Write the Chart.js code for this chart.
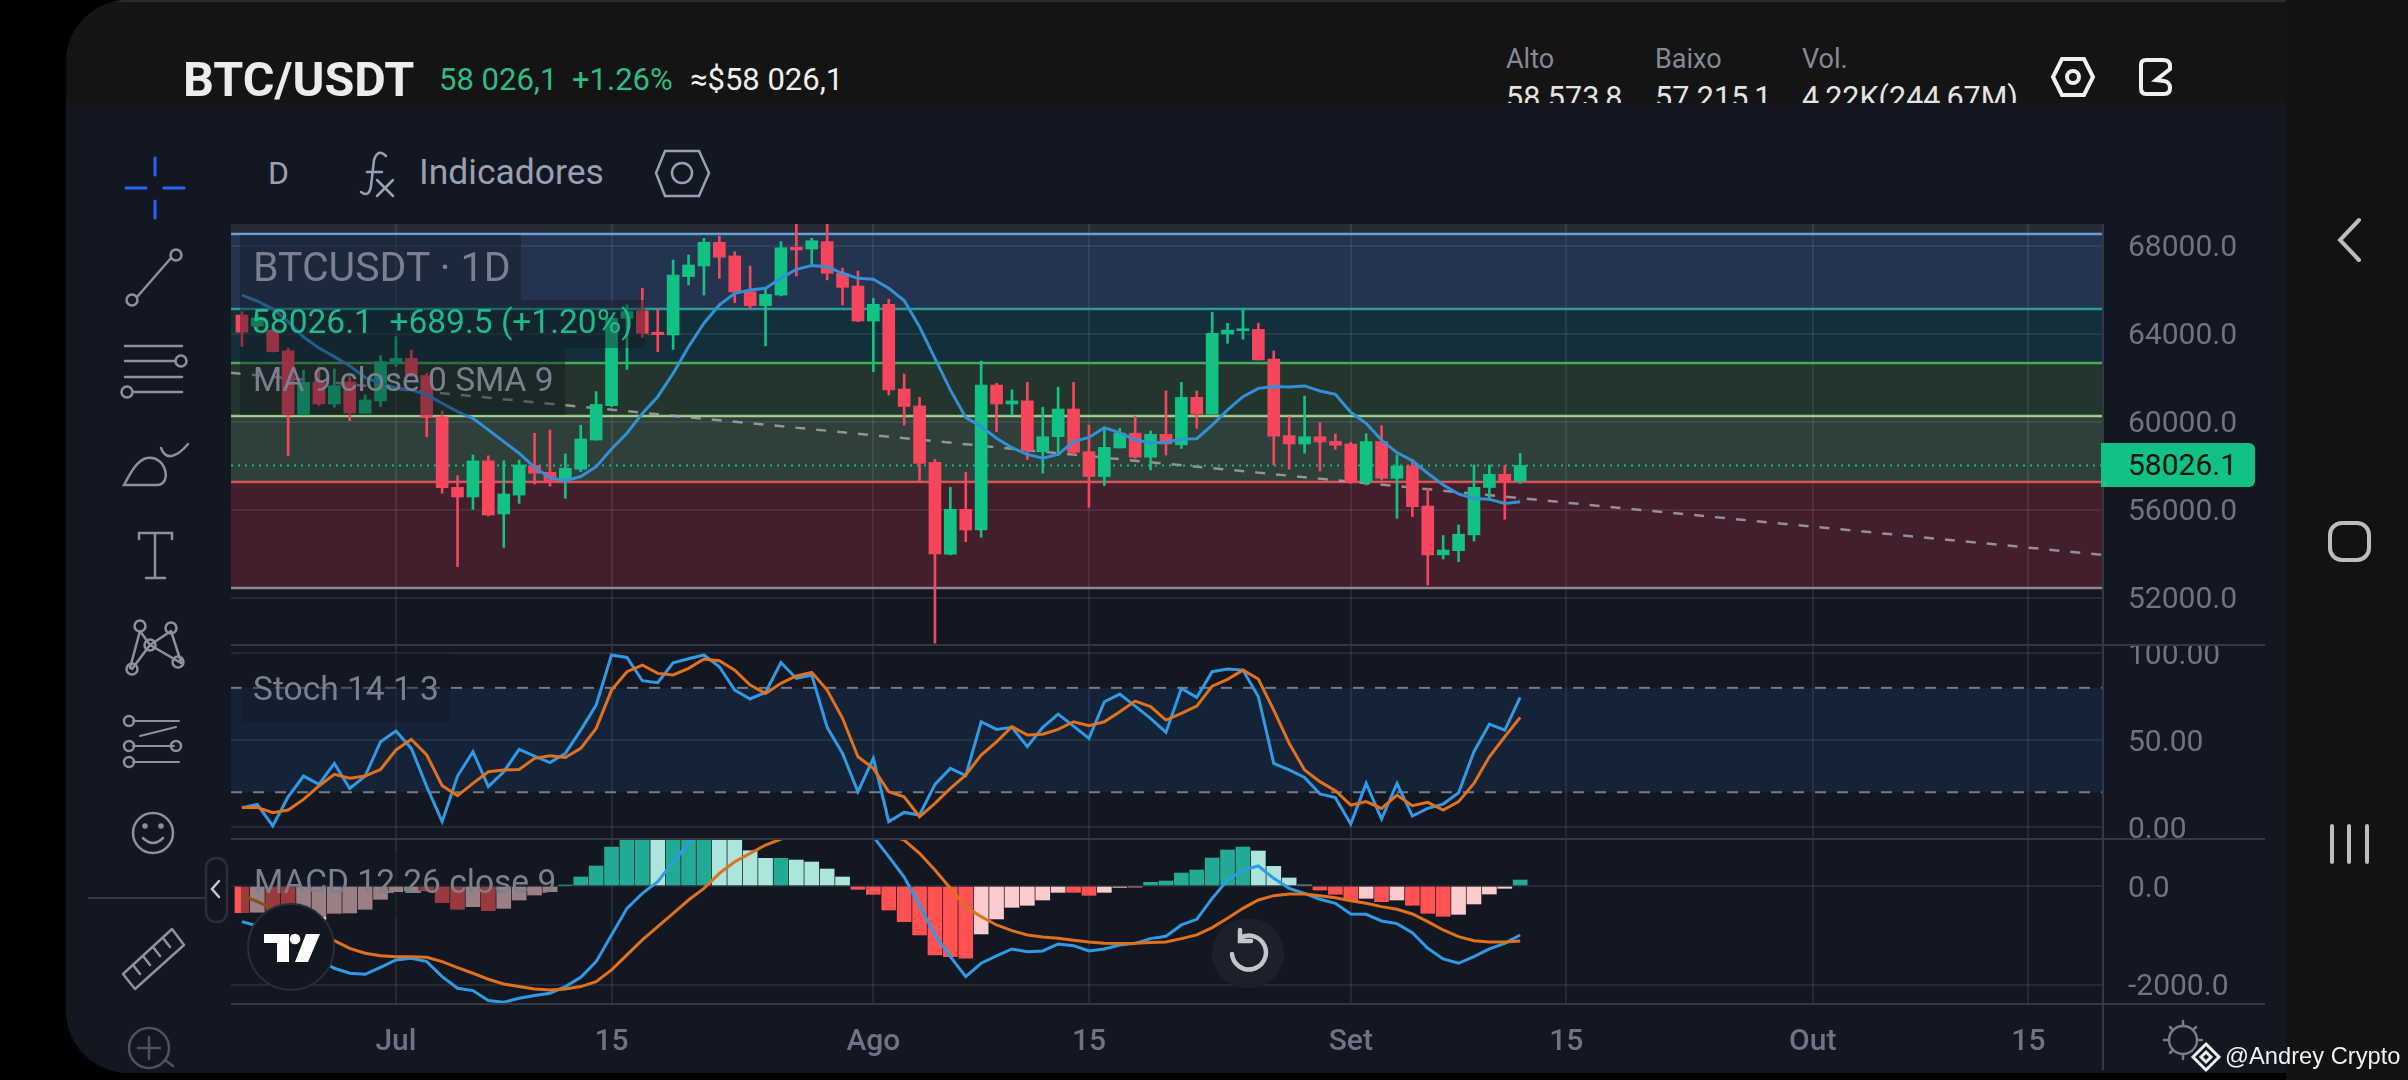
<!DOCTYPE html>
<html>
<head>
<meta charset="utf-8">
<title>BTCUSDT</title>
<script src="https://cdn.jsdelivr.net/npm/chart.js@4"></script>
<style>
    html, body { margin: 0; width: 2408px; height: 1080px; background: #000; overflow: hidden; font-family: Roboto, sans-serif; }
    #nav { position: absolute; left: 2286px; top: 0; width: 122px; height: 1080px; background: #121212; }
    #phone { position: absolute; left: 66px; top: 0; width: 2220px; height: 1073px; background: #131722; border-radius: 62px 0 0 62px; overflow: hidden; }
    #header { position: absolute; left: 0; top: 0; width: 2220px; height: 103px; background: #141414; border-top: 2px solid #2b2b2b; box-sizing: border-box; overflow: hidden; }
    canvas { position: absolute; left: 231px; }
    .txt { position: absolute; white-space: pre; line-height: 1; }
    .tag { position: absolute; background: rgba(19, 23, 34, 0.42); }
    .sep { position: absolute; background: #343843; }
    svg { position: absolute; left: 0; top: 0; }
</style>
</head>
<body>
<div id="nav"></div>
<div id="phone">
    <div id="header">
        <div class="txt" style="left:117px;top:54px;font-size:48.5px;font-weight:700;color:#ececec">BTC/USDT</div>
        <div class="txt" style="left:373px;top:62px;font-size:31px;color:#2ebd85">58 026,1</div>
        <div class="txt" style="left:506px;top:62px;font-size:31px;color:#2ebd85">+1.26%</div>
        <div class="txt" style="left:624px;top:62px;font-size:31px;color:#f0f0f0">≈$58 026,1</div>
        <div class="txt" style="left:1440px;top:44px;font-size:27px;color:#858a94">Alto</div>
        <div class="txt" style="left:1589px;top:44px;font-size:27px;color:#858a94">Baixo</div>
        <div class="txt" style="left:1736px;top:44px;font-size:27px;color:#858a94">Vol.</div>
        <div class="txt" style="left:1440px;top:81px;font-size:30.5px;color:#e4e4e4">58 573,8</div>
        <div class="txt" style="left:1589px;top:81px;font-size:30.5px;color:#e4e4e4">57 215,1</div>
        <div class="txt" style="left:1736px;top:81px;font-size:30.5px;color:#e4e4e4">4,22K(244,67M)</div>
    </div>
</div>
<canvas id="priceChart" width="2055" height="420" style="top:224px;width:2055px;height:420px"></canvas>
<canvas id="stochChart" width="2055" height="194" style="top:644px;width:2055px;height:194px"></canvas>
<canvas id="macdChart" width="2055" height="232" style="top:838px;width:2055px;height:232px"></canvas>

<div class="sep" style="left:2102px;top:224px;width:2px;height:846px"></div>
<div class="sep" style="left:231px;top:644px;width:2034px;height:2px"></div>
<div class="sep" style="left:231px;top:838px;width:2034px;height:2px"></div>
<div class="sep" style="left:231px;top:1003px;width:2034px;height:2px"></div>
<div class="sep" style="left:88px;top:897px;width:118px;height:2px"></div>

<div class="tag" style="left:240px;top:235px;width:281px;height:65px"></div>
<div class="tag" style="left:240px;top:300px;width:405px;height:48px"></div>
<div class="tag" style="left:240px;top:348px;width:325px;height:67px"></div>
<div class="tag" style="left:241px;top:653px;width:210px;height:69px"></div>
<div class="tag" style="left:241px;top:852px;width:316px;height:65px"></div>

<div class="txt" style="left:253px;top:247px;font-size:41px;color:#7a808f">BTCUSDT · 1D</div>
<div class="txt" style="left:251px;top:305px;font-size:33.5px;color:#1fb98a">58026.1  +689.5 (+1.20%)</div>
<div class="txt" style="left:253px;top:363px;font-size:33.5px;color:#7a808f">MA 9 close 0 SMA 9</div>
<div class="txt" style="left:253px;top:672px;font-size:33.5px;color:#7a808f">Stoch 14 1 3</div>
<div class="txt" style="left:254px;top:865px;font-size:33.5px;color:#7a808f">MACD 12 26 close 9</div>

<div class="txt" style="left:268px;top:157px;font-size:32px;color:#9aa0b4">D</div>
<div class="txt" style="left:419px;top:155px;font-size:35.5px;color:#9aa0b4">Indicadores</div>

<div style="position:absolute;left:2101px;top:443px;width:154px;height:44px;background:#12c184;border-radius:0 6px 6px 0"></div>
<div class="txt" style="left:2128px;top:450px;font-size:30px;color:#06140e">58026.1</div>
<div class="txt" style="left:2225px;top:1045px;font-size:23.7px;color:#f2f2f2;font-family:'Liberation Sans'">@Andrey Crypto</div>

<svg width="2408" height="1080" fill="none" stroke="#8d919f" stroke-width="2.5" stroke-linecap="round">
    <!-- header + nav -->
    <g stroke="#f0f0f0" stroke-width="4">
        <path d="M2062 60 L2084 60 L2093 78 L2084 96 L2062 96 L2053 78 Z" transform="translate(0,-1)"/>
        <circle cx="2073" cy="77" r="6"/>
        <path d="M2163 60 L2146 60 Q2141 60 2141 65 L2141 88 Q2141 94 2146 94 L2164 94 Q2170 94 2170 88 Q2170 82 2164 81 L2156 80 L2170 69 L2170 66 Q2170 60 2163 60"/>
    </g>
    <g stroke="#bdbdbd" stroke-width="4">
        <path d="M2359 220 L2340 240 L2359 260"/>
        <rect x="2330" y="523" width="39" height="37" rx="12"/>
        <path d="M2332 826 V862 M2349 826 V862 M2367 826 V862"/>
    </g>
    <!-- top bar -->
    <path d="M386 156 Q378 148 374 160 L371 186 Q369 198 361 192 M367 172 H382 M377 180 L393 196 M393 180 L377 196" stroke="#9aa0b4"/>
    <path d="M665 151 L699 151 L709 173 L699 196 L665 196 L656 173 Z" stroke="#9aa0b4"/>
    <circle cx="682" cy="173" r="10" stroke="#9aa0b4"/>
    <!-- left tools -->
    <path d="M155 158 V175 M155 201 V218 M126 188 H146 M164 188 H184" stroke="#2962ff" stroke-width="3"/>
    <circle cx="176" cy="255" r="5.5"/><circle cx="132" cy="300" r="5.5"/><path d="M137 297 L171 258"/>
    <path d="M125 346 H182 M125 361 H175 M125 377 H182 M133 392 H182"/><circle cx="181" cy="361" r="5.5"/><circle cx="127" cy="392" r="5.5"/>
    <path d="M124 485 L157 485 C172 485 167 455 147 458 C136 460 128 478 124 485 Z M161 448 C166 462 178 456 188 444"/>
    <path d="M139 539 V533 H172 V539 M155 533 V578 M146 578 H165"/>
    <path d="M140 631 L130 668 M171 631 L181 662 M140 631 L150 645 L171 631 M132 669 L150 645 L181 663"/>
    <circle cx="140" cy="626" r="5.5"/><circle cx="171" cy="628" r="5.5"/><circle cx="150" cy="645" r="5.5"/><circle cx="132" cy="669" r="5.5"/><circle cx="178" cy="662" r="5.5"/>
    <path d="M133 721 H179 M133 746 H174 M133 762 H179 M140 736 L176 727" stroke-width="2"/>
    <circle cx="129" cy="721" r="5"/><circle cx="129" cy="746" r="5"/><circle cx="176" cy="746" r="5"/><circle cx="129" cy="762" r="5"/>
    <circle cx="153" cy="833" r="20"/><path d="M143 838 Q153 848 163 838"/><circle cx="145" cy="826" r="1.5"/><circle cx="161" cy="826" r="1.5"/>
    <path d="M123 974 L172 929 L184 945 L135 989 Z M133 965 L140 974 M143 956 L150 965 M153 947 L160 956 M163 938 L170 947" stroke-linejoin="round"/>
    <rect x="206" y="858" width="21" height="64" rx="10" stroke="#2a2e39"/>
    <path d="M219 881 L212 889 L219 897" stroke="#c4c7d0"/>
    <circle cx="149" cy="1048" r="20" stroke="#4f5360"/><path d="M138 1048 H160 M149 1037 V1059 M165 1060 L173 1066" stroke="#4f5360"/>
    <!-- floating buttons -->
    <circle cx="291" cy="947" r="43" fill="#131722" stroke="#2a2e39" stroke-width="2"/>
    <path d="M264 934 H289 V962 H277 V943 H264 Z M306 934 H320 L308 962 H295 Z" fill="#fff" stroke="none"/>
    <circle cx="295" cy="939" r="5.3" fill="#fff" stroke="none"/>
    <ellipse cx="1248" cy="953" rx="36" ry="35" fill="#1c202b" stroke="none"/>
    <path d="M1240 938 A17 17 0 1 1 1232 954 M1240 930 L1240 941 L1251 941" stroke="#c3c5cc" stroke-width="4.5"/>
    <!-- bottom right -->
    <circle cx="2183" cy="1040" r="14" stroke="#787b86"/>
    <path d="M2183 1021 V1026 M2183 1054 V1059 M2164 1040 H2169 M2197 1040 H2202 M2170 1027 L2173 1030 M2196 1027 L2193 1030 M2170 1053 L2173 1050" stroke="#787b86"/>
    <path d="M2206 1044 L2219 1057 L2206 1070 L2193 1057 Z M2206 1052 L2211 1057 L2206 1062 L2201 1057 Z" fill="#131722" stroke="#f2f2f2" stroke-width="3"/>
</svg>

<script>
// day offset from 1 July for every candle (21 Jun - 12 Sep)
const days = [
    -10, -9, -8, -7, -6, -5, -4, -3, -2, -1, 0, 1, 2, 3, 4, 5, 6, 7, 8, 9, 10, 11, 12, 13, 14, 15, 16, 17, 18, 19,
    20, 21, 22, 23, 24, 25, 26, 27, 28, 29, 30, 31, 32, 33, 34, 35, 36, 37, 38, 39, 40, 41, 42, 43, 44, 45, 46, 47, 48, 49,
    50, 51, 52, 53, 54, 55, 56, 57, 58, 59, 60, 61, 62, 63, 64, 65, 66, 67, 68, 69, 70, 71, 72, 73
]

const opens = [
    64860, 64360, 64180, 63240, 60320, 61800, 60820, 61820, 60400, 60960, 62670, 62890, 62110, 60240, 57030, 56590, 58230, 55820, 56680, 58020,
    57710, 57330, 57850, 59180, 60740, 64710, 65050, 64080, 63960, 66610, 67090, 68170, 67550, 65920, 65290, 65770, 67940, 67860, 68200, 66760,
    66180, 64590, 65350, 61500, 60730, 58170, 53990, 56030, 55090, 61680, 60820, 60960, 58650, 59330, 60590, 58650, 57520, 58820, 59490, 58400,
    59440, 58960, 61120, 60360, 64000, 64150, 64210, 62860, 59380, 59000, 59330, 59120, 59000, 57260, 59110, 57440, 58000, 56180, 53960, 54150,
    54870, 57020, 57620, 57320
]
const highs = [
    65020, 64900, 64250, 63350, 62360, 62500, 62410, 62060, 61230, 63020, 63880, 63270, 62210, 60500, 57560, 58500, 58460, 58240, 58270, 59490,
    59640, 58550, 59860, 61380, 64790, 65320, 66080, 65120, 67360, 67590, 68350, 68450, 67740, 67090, 66080, 68200, 69100, 68350, 69100, 66990,
    66860, 65620, 65580, 62180, 61120, 58300, 57030, 57710, 62770, 61760, 61460, 61800, 60670, 61580, 61800, 59860, 59710, 59710, 60270, 59590,
    61410, 61800, 61410, 64990, 64490, 65140, 64490, 63230, 60240, 61180, 59970, 59460, 59080, 59460, 59830, 58500, 58300, 56990, 54840, 55320,
    58050, 58050, 58020, 58573.8
]
const lows = [
    63430, 64200, 63180, 58470, 60320, 60750, 60670, 60060, 60400, 60700, 62520, 62060, 59330, 56760, 53430, 56030, 55730, 54300, 56300, 57180,
    57090, 56530, 57740, 59180, 60700, 62390, 63850, 63200, 63300, 66230, 65770, 66530, 65420, 65120, 63460, 65730, 66640, 67140, 66460, 65320,
    64560, 62290, 61230, 59860, 57240, 49950, 53960, 54560, 54760, 59560, 60320, 58300, 57670, 58470, 58500, 56120, 57110, 58820, 58350, 57820,
    58500, 58800, 59710, 60360, 63580, 63760, 62820, 58050, 57850, 58580, 57770, 58760, 57210, 57140, 57360, 55620, 55700, 52590, 53770, 53650,
    54590, 56460, 55580, 57215.1
]
const closes = [
    64080, 64730, 63200, 60320, 61800, 60820, 61650, 60410, 61000, 62740, 62890, 62110, 60210, 57020, 56590, 58230, 55770, 56730, 58050, 57670,
    57260, 57900, 59230, 60800, 64710, 65020, 64030, 63970, 66680, 67140, 68170, 67490, 65910, 65290, 65800, 67920, 67820, 68240, 66760, 66120,
    64590, 65350, 61460, 60700, 58120, 54000, 56030, 55090, 61680, 60820, 60960, 58700, 59330, 60590, 58620, 57520, 58850, 59490, 58400, 59440,
    59000, 61120, 60360, 64030, 64180, 64210, 62820, 59360, 59000, 59330, 59090, 58940, 57260, 59110, 57440, 58000, 56150, 53960, 54180, 54900,
    57030, 57620, 57290, 58026.1
]
const maValues = [
    65770, 65500, 65140, 64560, 63860, 63360, 62970, 62550, 62020, 61770, 61550, 61460, 61230, 60850, 60470, 60170, 59640, 59110, 58580, 57940,
    57470, 57330, 57520, 57970, 58770, 59490, 60390, 61150, 62210, 63420, 64490, 65320, 65850, 66000, 66080, 66530, 66940, 67110, 67060, 66760,
    66530, 66490, 66080, 65520, 64330, 62890, 61460, 60210, 59790, 59260, 58830, 58530, 58350, 58530, 59110, 59300, 59740, 59520, 59180, 59060,
    59080, 59230, 59240, 59860, 60550, 61150, 61530, 61610, 61590, 61640, 61410, 61260, 60440, 59940, 59180, 58610, 58240, 57670, 57140, 56730,
    56520, 56490, 56300, 56370
]
const fibLevels = [69000, 68545, 65136, 62680, 60270, 57270, 52450]
const trendDays = [-10.71, 110.78]
const trendValues = [62241, 53964]
const lastPrice = 58026.1

const stochK = [
    11.1, 13.0, 0.6, 17.4, 29.3, 24.5, 36.6, 22.2, 29.3, 49.0, 55.2, 45.2, 23.2, 3.1, 29.3, 43.3, 23.2, 31.8, 44.6, 40.8,
    37.0, 42.3, 55.7, 70.1, 98.9, 97.5, 84.1, 83.0, 94.4, 96.7, 98.9, 92.1, 78.7, 73.6, 77.4, 94.6, 85.4, 87.4, 57.3, 42.3,
    20.3, 39.5, 3.1, 8.4, 6.9, 24.5, 33.7, 29.5, 60.5, 56.1, 57.3, 46.2, 57.3, 64.9, 58.0, 51.0, 72.0, 76.4, 69.5, 62.5,
    54.4, 79.7, 74.5, 89.3, 90.8, 90.2, 74.9, 36.6, 32.8, 28.5, 19.0, 16.9, 1.7, 25.1, 4.6, 25.1, 6.3, 10.7, 13.2, 19.7,
    43.3, 59.2, 55.7, 74.5
]
const stochD = [
    11.3, 11.3, 8.2, 9.8, 15.9, 23.6, 30.3, 28.0, 29.3, 33.1, 44.3, 50.4, 41.4, 23.8, 18.0, 25.1, 31.8, 32.8, 33.1, 39.5,
    41.0, 40.0, 45.2, 56.7, 78.7, 89.3, 93.1, 88.3, 87.4, 91.2, 96.6, 95.6, 90.2, 81.6, 76.8, 82.6, 86.8, 88.9, 78.7, 62.5,
    40.4, 33.7, 20.3, 17.4, 5.9, 13.6, 22.2, 29.9, 41.4, 49.0, 57.7, 52.9, 53.3, 56.1, 60.5, 58.2, 60.5, 66.3, 72.4, 69.2,
    61.5, 65.3, 69.5, 81.0, 84.9, 90.2, 85.1, 67.2, 48.1, 32.8, 26.1, 20.9, 12.6, 14.6, 10.7, 18.4, 12.3, 14.2, 9.8, 14.6,
    25.1, 40.4, 51.9, 63.0
]
const stochBands = [80, 20]

const macdHist = [
    -540, -530, -620, -700, -680, -673, -552, -545, -471, -269, -114, -94, -100, -336, -471, -417, -498, -451, -283, -182,
    -114, 13, 182, 404, 787, 1010, 1150, 1130, 1250, 1300, 1320, 1130, 1000, 713, 559, 559, 525, 485, 343, 182,
    -67, -168, -485, -720, -989, -1393, -1427, -1460, -969, -666, -431, -390, -283, -128, -128, -188, -128, -27, -20, 74,
    101, 262, 323, 565, 727, 787, 707, 397, 162, 20, -81, -168, -296, -249, -316, -283, -390, -552, -612, -572,
    -363, -162, -47, 121
]
const macdLine = [
    -720, -808, -922, -1057, -1191, -1494, -1662, -1763, -1783, -1642, -1494, -1460, -1528, -1831, -2066, -2113, -2315, -2349, -2268, -2214,
    -2167, -2032, -1844, -1528, -989, -451, -148, 87, 491, 861, 1198, 1400, 1602, 1736, 1804, 1804, 1736, 1736, 1669, 1534,
    1333, 996, 592, 182, -384, -989, -1427, -1831, -1561, -1413, -1272, -1326, -1312, -1171, -1205, -1312, -1272, -1191, -1158, -1063,
    -1016, -787, -673, -249, 121, 323, 404, 155, -47, -148, -269, -350, -565, -572, -707, -760, -942, -1259, -1474, -1561,
    -1427, -1272, -1158, -989
]
const macdSignal = [
    -182, -316, -451, -586, -740, -922, -1104, -1259, -1359, -1407, -1427, -1427, -1440, -1528, -1649, -1763, -1884, -1979, -2032, -2080,
    -2100, -2080, -2032, -1932, -1696, -1393, -1090, -821, -552, -283, -47, 256, 491, 660, 828, 949, 1131, 1232, 1265, 1265,
    1232, 1131, 1030, 929, 660, 323, -47, -417, -619, -787, -902, -989, -1030, -1057, -1097, -1131, -1158, -1164, -1158, -1144,
    -1131, -1063, -989, -841, -653, -451, -283, -195, -162, -162, -195, -236, -296, -350, -417, -471, -565, -720, -888, -1023,
    -1104, -1131, -1131, -1110
]

const xMin = -10.71
const xMax = 110.78
const xTickDays = [0, 14, 31, 45, 62, 76, 92, 106]
const xTickLabels = ['Jul', '15', 'Ago', '15', 'Set', '15', 'Out', '15']
const priceTicks = [68000, 64000, 60000, 56000, 52000]
const stochTicks = [100, 50, 0]
const macdTicks = [0, -2000]

const GREEN = '#12c184'
const RED = '#f6465d'
const GRID = 'rgba(255, 255, 255, 0.08)'
const AXIS_TEXT = '#6f7384'
const fibLineColors = ['rgba(0,0,0,0)', '#5f9bd6', '#1f9b8f', '#4caf50', '#a0d08a', '#e04252', '#8b8b98']
const fibFillColors = ['rgba(255,255,255,0.09)', 'rgba(104,172,255,0.2)', 'rgba(19,148,154,0.2)', 'rgba(99,173,89,0.2)', 'rgba(159,223,154,0.2)', 'rgba(255,63,89,0.2)']

function toPoints(values) {
    return days.map((d, i) => ({ x: d, y: values[i] }))
}

function flatLine(value) {
    return [{ x: xMin, y: value }, { x: xMax, y: value }]
}

function lineSet(data, color, width, order) {
    return { type: 'line', data: data, borderColor: color, borderWidth: width, pointRadius: 0, tension: 0, order: order }
}

function makeChart(canvasId, datasets, yMin, yMax, ticks, decimals, showDates) {
    const ctx = document.getElementById(canvasId).getContext('2d')
    return new Chart(ctx, {
        data: { datasets: datasets },
        options: {
            responsive: false,
            animation: false,
            devicePixelRatio: 1,
            layout: { padding: 0, autoPadding: false },
            plugins: { legend: { display: false }, tooltip: { enabled: false } },
            scales: {
                x: {
                    type: 'linear',
                    offset: false,
                    min: xMin,
                    max: xMax,
                    afterBuildTicks: (scale) => { scale.ticks = xTickDays.map((v) => ({ value: v })) },
                    afterFit: (scale) => {
                        scale.height = showDates ? 67 : 0
                        scale.paddingLeft = 0
                        scale.paddingRight = 0
                    },
                    grid: { color: GRID, lineWidth: 2, drawTicks: false, offset: false },
                    border: { display: false },
                    ticks: {
                        display: showDates,
                        autoSkip: false,
                        maxRotation: 0,
                        padding: 21,
                        color: AXIS_TEXT,
                        font: { family: 'Roboto', size: 30, weight: '500' },
                        callback: (value) => xTickLabels[xTickDays.indexOf(value)]
                    }
                },
                y: {
                    position: 'right',
                    min: yMin,
                    max: yMax,
                    afterBuildTicks: (scale) => { scale.ticks = ticks.map((v) => ({ value: v })) },
                    afterFit: (scale) => {
                        scale.width = 184
                        // the labels may run past the panel edge, the canvas crops them like the app does
                        scale.paddingTop = 0
                        scale.paddingBottom = 0
                    },
                    grid: { color: GRID, lineWidth: 2, drawTicks: false },
                    border: { display: false },
                    ticks: {
                        padding: 26,
                        labelOffset: 3,
                        color: AXIS_TEXT,
                        font: { family: 'Roboto', size: 30 },
                        callback: (value) => value.toFixed(decimals)
                    }
                }
            }
        }
    })
}

// fib bands sit under everything, each one fills down to the next level
const fibSets = fibLevels.map((level, i) => ({
    type: 'line',
    data: flatLine(level),
    borderColor: fibLineColors[i],
    borderWidth: 2.5,
    pointRadius: 0,
    backgroundColor: fibFillColors[i],
    fill: i < fibLevels.length - 1 ? '+1' : false,
    order: 20
}))

const trendSet = lineSet(trendDays.map((d, i) => ({ x: d, y: trendValues[i] })), 'rgba(170, 170, 180, 0.8)', 2.5, 8)
trendSet.borderDash = [10, 11]

const priceLine = lineSet(flatLine(lastPrice), '#1db587', 2, 7)
priceLine.borderDash = [2, 5]

const wickSet = {
    type: 'bar',
    data: days.map((d, i) => ({ x: d, y: [lows[i], highs[i]] })),
    backgroundColor: days.map((d, i) => closes[i] >= opens[i] ? GREEN : RED),
    barThickness: 2,
    grouped: false,
    order: 4
}
const bodySet = {
    type: 'bar',
    data: days.map((d, i) => ({ x: d, y: [Math.min(opens[i], closes[i]), Math.max(opens[i], closes[i])] })),
    backgroundColor: days.map((d, i) => closes[i] >= opens[i] ? GREEN : RED),
    barThickness: 12,
    minBarLength: 2,
    grouped: false,
    order: 3
}

makeChart('priceChart', [
    ...fibSets,
    trendSet,
    priceLine,
    wickSet,
    bodySet,
    lineSet(toPoints(maValues), '#3290d6', 3, 1)
], 49909, 69000, priceTicks, 1, false)

const stochTop = lineSet(flatLine(stochBands[0]), '#787b86', 2, 6)
stochTop.borderDash = [11, 11]
stochTop.fill = '+1'
stochTop.backgroundColor = 'rgba(33, 150, 243, 0.10)'
const stochBottom = lineSet(flatLine(stochBands[1]), '#787b86', 2, 6)
stochBottom.borderDash = [11, 11]

makeChart('stochChart', [
    stochTop,
    stochBottom,
    lineSet(toPoints(stochK), '#2f9be6', 3, 2),
    lineSet(toPoints(stochD), '#e0711d', 3, 1)
], -6.3, 105.2, stochTicks, 2, false)

// TradingView histogram colours: dark/strong while growing, pale while shrinking
const histColors = macdHist.map((v, i) => {
    const prev = i > 0 ? macdHist[i - 1] : v
    if (v >= 0) return v >= prev ? '#22ab94' : '#ace5dc'
    return v <= prev ? '#ff5252' : '#fccbcd'
})

makeChart('macdChart', [
    {
        type: 'bar',
        data: toPoints(macdHist),
        backgroundColor: histColors,
        barThickness: 14,
        grouped: false,
        order: 5
    },
    lineSet(toPoints(macdLine), '#2f9be6', 3, 2),
    lineSet(toPoints(macdSignal), '#e0711d', 3, 1)
], -2364, 970, macdTicks, 1, true)
</script>
</body>
</html>
